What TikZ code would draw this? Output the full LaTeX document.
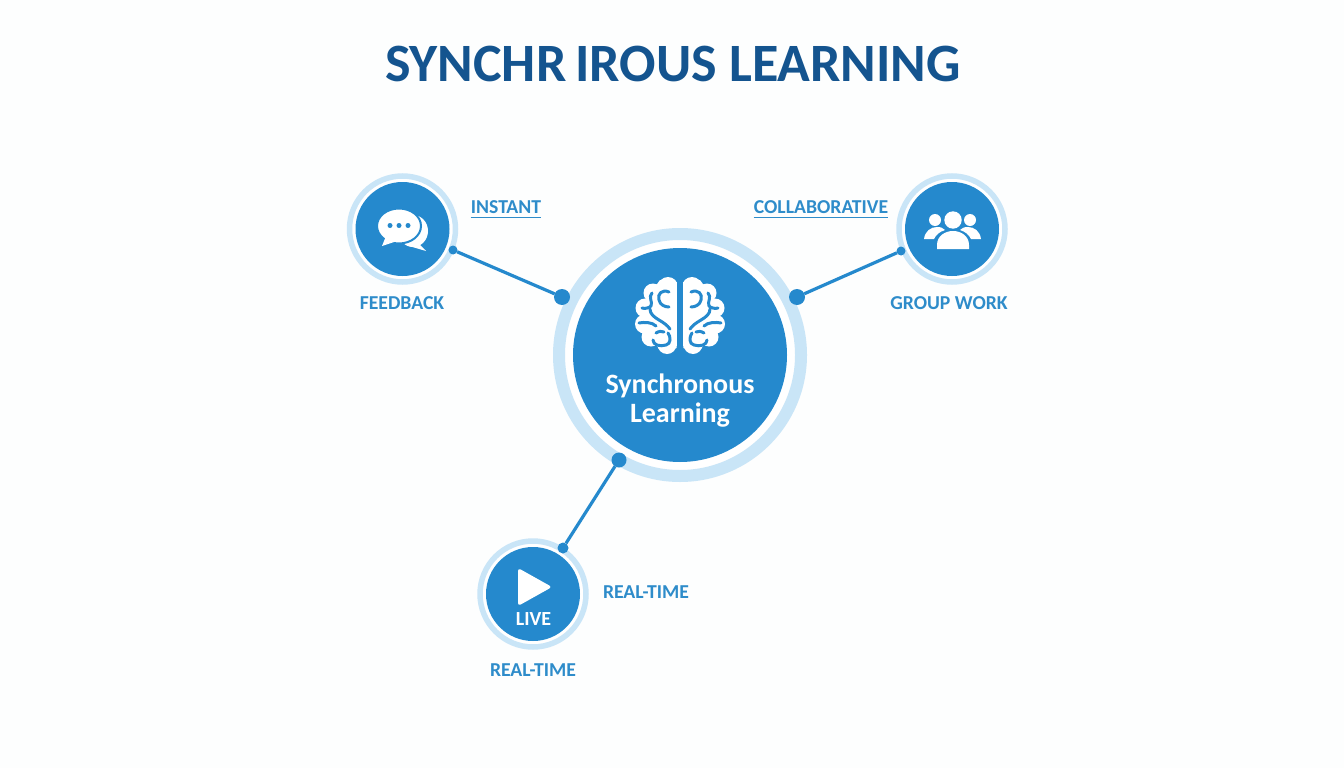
\documentclass[tikz,border=0pt]{standalone}
\usepackage{fontspec}
\setmainfont{Carlito}
\definecolor{bgc}{HTML}{FDFEFE}
\definecolor{disc}{HTML}{2589CD}
\definecolor{ringc}{HTML}{C9E5F7}
\definecolor{lab}{HTML}{2E8CCA}
\definecolor{titlec}{HTML}{14548F}
\tikzset{
 ringnode/.style={circle,draw=ringc,fill=white,inner sep=0,outer sep=0},
 discnode/.style={circle,fill=disc,inner sep=0,outer sep=0},
 dotnode/.style={circle,fill=disc,inner sep=0,outer sep=0},
 lbl/.style={text=lab,font=\fontsize{19.7}{22}\selectfont\bfseries,inner sep=0,anchor=center},
 wire/.style={draw=disc,line width=3.2pt},
 glyph/.style={fill=white,draw=none},
 groove/.style={draw=disc,line width=3pt,line cap=round,line join=round,fill=none}
}
\begin{document}
\begin{tikzpicture}[x=1pt,y=-1pt]
\useasboundingbox (0,0) rectangle (1344,768);
\fill[bgc] (0,0) rectangle (1344,768);
% title
\node[text=titlec,font=\fontsize{54}{58}\selectfont\bfseries,inner sep=0] (title) at (673,64) {SYNCHR\kern9pt IROUS LEARNING};
% hub
\node[ringnode,line width=12pt,minimum size=242pt] (hubring) at (680,355) {};
\node[discnode,minimum size=214pt] (hub) at (680,355) {};
\node[text=white,font=\fontsize{28}{29.5}\selectfont\bfseries,align=center,inner sep=0] (hubtext) at (680,400.5) {Synchronous\\Learning};
% satellites
\node[ringnode,line width=5.5pt,minimum size=106pt] (fbring) at (402.5,229) {};
\node[discnode,minimum size=94pt] (fb) at (402.5,229) {};
\node[ringnode,line width=5.5pt,minimum size=106pt] (grring) at (952,229) {};
\node[discnode,minimum size=94pt] (gr) at (952,229) {};
\node[ringnode,line width=5.5pt,minimum size=106pt] (lvring) at (533,594) {};
\node[discnode,minimum size=94pt] (lv) at (533,594) {};
% dots
\node[dotnode,minimum size=16pt] (d1) at (562,297) {};
\node[dotnode,minimum size=16pt] (d2) at (797,297) {};
\node[dotnode,minimum size=15pt] (d3) at (619,460) {};
\node[dotnode,minimum size=9pt] (e1) at (453,250) {};
\node[dotnode,minimum size=9pt] (e2) at (901,251) {};
\node[dotnode,minimum size=11pt] (e3) at (563,548) {};
\draw[wire] (e1) -- (d1);
\draw[wire] (e2) -- (d2);
\draw[wire] (e3) -- (d3);
% brain
\begin{scope}[shift={(680,316)}]
\foreach \s in {1,-1}{
\begin{scope}[xscale=\s]
 \fill[white] (3.3,-32) -- (20,-36) -- (36,-14) -- (36,14) -- (20,34) -- (3.3,32) -- cycle;
 \fill[white] (12,-29) circle (10);
 \fill[white] (27,-23) circle (9.5);
 \fill[white] (35,-8) circle (9.5);
 \fill[white] (35.5,8) circle (9.5);
 \fill[white] (29,21) circle (9.5);
 \fill[white] (13,28.5) circle (9.5);
 \fill[white] (3.3,-34) rectangle (12,30);
 \fill[disc] (-3.3,-42) rectangle (3.3,42);
 \draw[groove] (11,-24) .. controls (18,-27) and (23,-22) .. (21,-16) .. controls (20,-11) and (15,-9) .. (11,-9);
 \draw[groove] (28,-23) .. controls (32,-19) and (27,-14) .. (29,-10) .. controls (31,-8) and (35,-7) .. (38,-8);
 \draw[groove] (30,-7) .. controls (30,-2) and (26,1) .. (21,4) .. controls (16,7) and (13,9) .. (10,13);
 \draw[groove] (41,7) .. controls (36,6) and (28,6) .. (24,10);
 \draw[groove] (12,17) .. controls (9,21) and (9,28) .. (14,29) .. controls (20,31) and (27,29) .. (27,24);
 \draw[groove] (24,17) .. controls (21,15) and (18,15) .. (16,16);
\end{scope}}
\end{scope}
% speech icon
\begin{scope}
 \fill[glyph] (413,231) ellipse (15 and 16);
 \fill[glyph] (415,240) -- (426,251) -- (409,246) -- cycle;
 \draw[disc,line width=2pt,fill=white] (399,226) ellipse (22 and 17.5);
 \fill[glyph] (386,236) -- (382,246) -- (397,241) -- cycle;
 \fill[disc] (390,225.5) circle (2.5) (399,225.5) circle (2.5) (408,225.5) circle (2.5);
\end{scope}
% people icon
\begin{scope}
 \fill[glyph] (935,220) circle (6);
 \fill[glyph] (970,220) circle (6);
 \fill[glyph] (924,239) .. controls (925,231) and (931,227) .. (937,227) .. controls (941,227) and (943,228) .. (945,230) .. controls (939,232) and (936,235) .. (934,239) -- cycle;
 \fill[glyph] (981,239) .. controls (980,231) and (974,227) .. (968,227) .. controls (964,227) and (962,228) .. (960,230) .. controls (966,232) and (969,235) .. (971,239) -- cycle;
 \fill[glyph] (953,220) circle (8.7);
 \fill[glyph] (937,249) -- (937,245) .. controls (937,236) and (945,231) .. (953,231) .. controls (961,231) and (969,236) .. (969,245) -- (969,249) -- cycle;
\end{scope}
% play icon
\fill[glyph,rounded corners=3pt] (518,568) -- (552,587) -- (518,606) -- cycle;
\node[text=white,font=\fontsize{20}{22}\selectfont\bfseries,inner sep=0] (livetxt) at (533.5,619) {LIVE};
% labels
\node[lbl] (instant) at (506,207.5) {INSTANT};
\node[lbl] (collab) at (821,207.5) {COLLABORATIVE};
\node[lbl] (feedback) at (402,303) {FEEDBACK};
\node[lbl] (group) at (949,303) {GROUP WORK};
\node[lbl] (rt1) at (646,592) {REAL-TIME};
\node[lbl] (rt2) at (533,670) {REAL-TIME};
\draw[lab,line width=1.4pt] ([yshift=-3.5pt]instant.south west) -- ([yshift=-3.5pt]instant.south east);
\draw[lab,line width=1.4pt] ([yshift=-3.5pt]collab.south west) -- ([yshift=-3.5pt]collab.south east);
\end{tikzpicture}
\end{document}
